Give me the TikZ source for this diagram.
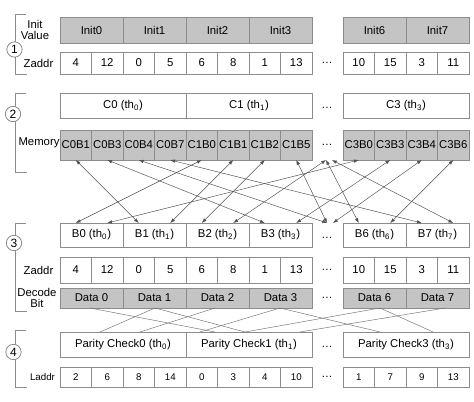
\documentclass[tikz,border=0pt]{standalone}
\usepackage{fontspec}
\setmainfont{Liberation Sans}
\usetikzlibrary{arrows.meta}
\definecolor{cellfill}{HTML}{C4C4C4}
\definecolor{cellline}{HTML}{8C8C8C}
\definecolor{arrowcol}{HTML}{505050}
\begin{document}
\begin{tikzpicture}[x=0.75pt,y=-0.75pt,
  base/.style={draw=cellline, line width=0.6pt, inner sep=0pt, outer sep=0pt,
    font=\fontsize{8.5}{9}\selectfont, anchor=center},
  wcell/.style={base, fill=white},
  gcell/.style={base, fill=cellfill},
  w1/.style={minimum width=23.625pt},
  w2/.style={minimum width=47.25pt},
  w4/.style={minimum width=94.5pt},
  lab/.style={inner sep=0pt, font=\fontsize{8.5}{8}\selectfont, align=center},
  small/.style={font=\fontsize{7.3}{8}\selectfont},
  dots/.style={inner sep=0pt, font=\fontsize{8.5}{9}\selectfont},
  num/.style={draw=cellline, fill=white, circle, line width=0.6pt, inner sep=0pt,
    minimum size=11.5pt, font=\fontsize{9}{9}\selectfont},
  brk/.style={draw=cellline, line width=0.6pt},
  link/.style={draw=arrowcol, line width=0.35pt, {Latex[length=3.6pt,width=2.6pt]}-{Latex[length=3.6pt,width=2.6pt]}},
  wire/.style={draw=arrowcol!80, line width=0.35pt}
]
\useasboundingbox (0,0) rectangle (474,402);

% ---------- brackets and circled numbers ----------
\draw[brk] (26,14) -- (15,14) -- (15,74) -- (27,74);
\node[num] (n1) at (14.5,49.5) {1};
\draw[brk] (26,93) -- (15,93) -- (15,172) -- (27,172);
\node[num] (n2) at (13,114) {2};
\draw[brk] (26,223) -- (15,223) -- (15,311) -- (27,311);
\node[num] (n3) at (14,243) {3};
\draw[brk] (26,330) -- (15,330) -- (15,387) -- (27,387);
\node[num] (n4) at (13.5,352) {4};

% ---------- left labels ----------
\node[lab] (lInit) at (35,30) {Init\\Value};
\node[lab] (lZ1) at (38.5,63) {Zaddr};
\node[lab] (lMem) at (39,143) {Memory};
\node[lab] (lZ2) at (38.5,270) {Zaddr};
\node[lab] (lDec) at (37,298) {Decode\\Bit};
\node[lab,small] (lL) at (42.5,377) {Laddr};

% ---------- row: Init ----------
\foreach \t [count=\i from 0] in {Init0,Init1,Init2,Init3}
  \node[gcell,w2,minimum height=19.5pt] (in\i) at ({91.5+63*\i},30) {\t};
\foreach \t [count=\i from 0] in {Init6,Init7}
  \node[gcell,w2,minimum height=19.5pt] (inR\i) at ({374.5+63*\i},30) {\t};

% ---------- row: Zaddr (1) ----------
\foreach \v [count=\i from 0] in {4,12,0,5,6,8,1,13}
  \node[wcell,w1,minimum height=16.5pt] (za\i) at ({75.75+31.5*\i},63) {\v};
\foreach \v [count=\i from 0] in {10,15,3,11}
  \node[wcell,w1,minimum height=16.5pt] (zaR\i) at ({358.75+31.5*\i},63) {\v};
\node[dots] (dza) at (327,63) {…};

% ---------- row: C ----------
\node[wcell,w4,minimum height=18.75pt] (c0) at (123,105.5) {C0 (th\textsubscript{0})};
\node[wcell,w4,minimum height=18.75pt] (c1) at (249,105.5) {C1 (th\textsubscript{1})};
\node[wcell,w4,minimum height=18.75pt] (c3) at (406,105.5) {C3 (th\textsubscript{3})};
\node[dots] (dc) at (327,108) {…};

% ---------- row: Memory ----------
\foreach \t [count=\i from 0] in {C0B1,C0B3,C0B4,C0B7,C1B0,C1B1,C1B2,C1B5}
  \node[gcell,w1,minimum height=22.5pt] (m\i) at ({75.75+31.5*\i},145) {\t};
\foreach \t [count=\i from 0] in {C3B0,C3B3,C3B4,C3B6}
  \node[gcell,w1,minimum height=22.5pt] (mR\i) at ({358.75+31.5*\i},145) {\t};
\node[dots] (dm) at (327,145) {…};
\coordinate (md1) at (326,160);
\coordinate (md2) at (332,160);

% ---------- row: B ----------
\foreach \t [count=\i from 0] in {0,1,2,3}
  \node[wcell,w2,minimum height=18pt] (b\i) at ({91.5+63*\i},235) {B\t\ (th\textsubscript{\t})};
\node[wcell,w2,minimum height=18pt] (bR0) at (374.5,235) {B6 (th\textsubscript{6})};
\node[wcell,w2,minimum height=18pt] (bR1) at (437.5,235) {B7 (th\textsubscript{7})};
\node[dots] (db) at (327,238) {…};
% arrival slots on top of the B row
\foreach \i in {0,...,7} \coordinate (bs\i) at ({75.75+31.5*\i},223);
\foreach \i in {0,...,3} \coordinate (bsR\i) at ({358.75+31.5*\i},223);
\coordinate (bsd1) at (327,223);
\coordinate (bsd2) at (333,223);

% ---------- links memory <-> B ----------
\draw[link] (m0.south) -- (bs2);
\draw[link] (m1.south) -- (bs6);
\draw[link] (m2.south) -- (bsd1);
\draw[link] (m3.south) -- (bsR2);
\draw[link] (m4.south) -- (bs0);
\draw[link] (m5.south) -- (bs3);
\draw[link] (m6.south) -- (bs4);
\draw[link] (m7.south) -- (bsd1);
\draw[link] (mR0.south) -- (bs1);
\draw[link] (mR1.south) -- (bs7);
\draw[link] (mR2.south) -- (bsd2);
\draw[link] (mR3.south) -- (bsR1);
\draw[link] (md1) -- (bs5);
\draw[link] (md1) -- (bsR0);
\draw[link] (md2) -- (bsR3);

% ---------- row: Zaddr (2) ----------
\foreach \v [count=\i from 0] in {4,12,0,5,6,8,1,13}
  \node[wcell,w1,minimum height=19.5pt] (zb\i) at ({75.75+31.5*\i},270) {\v};
\foreach \v [count=\i from 0] in {10,15,3,11}
  \node[wcell,w1,minimum height=19.5pt] (zbR\i) at ({358.75+31.5*\i},270) {\v};
\node[dots] (dzb) at (327,270) {…};

% ---------- row: Decode Bit ----------
\foreach \t [count=\i from 0] in {0,1,2,3}
  \node[gcell,w2,minimum height=15pt] (d\i) at ({91.5+63*\i},298) {Data \t};
\node[gcell,w2,minimum height=15pt] (dR0) at (374.5,298) {Data 6};
\node[gcell,w2,minimum height=15pt] (dR1) at (437.5,298) {Data 7};
\node[dots] (dd) at (327,298) {…};

% ---------- row: Parity check ----------
\node[wcell,w4,minimum height=18.75pt] (p0) at (123,344.5) {Parity Check0 (th\textsubscript{0})};
\node[wcell,w4,minimum height=18.75pt] (p1) at (249,344.5) {Parity Check1 (th\textsubscript{1})};
\node[wcell,w4,minimum height=18.75pt] (p3) at (406,344.5) {Parity Check3 (th\textsubscript{3})};
\node[dots] (dp) at (327,347) {…};

% ---------- wires Data -> Parity ----------
\coordinate (dw0) at (90,308);
\coordinate (dw1) at (155,308);
\coordinate (dw2) at (215,308);
\coordinate (dw3) at (280,308);
\coordinate (dw6) at (380,308);
\coordinate (dw7) at (445,308);
\coordinate (pw0a) at (100,332);
\coordinate (pw0b) at (140,332);
\coordinate (pw1a) at (215,332);
\coordinate (pw1b) at (245,332);
\coordinate (pw1c) at (200,332);
\coordinate (pw1d) at (300,332);
\coordinate (pw3a) at (380,332);
\coordinate (pw3b) at (433,332);
\draw[wire] (dw0) -- (pw1a);
\draw[wire] (dw1) -- (pw0a);
\draw[wire] (dw1) -- (pw1b);
\draw[wire] (dw2) -- (pw0b);
\draw[wire] (dw3) -- (pw1c);
\draw[wire] (dw3) -- (pw3a);
\draw[wire] (dw6) -- (pw1b);
\draw[wire] (dw7) -- (pw1d);
\draw[wire] (dw6) -- (pw3b);

% ---------- row: Laddr ----------
\foreach \v [count=\i from 0] in {2,6,8,14,0,3,4,10}
  \node[wcell,w1,small,minimum height=15pt] (la\i) at ({75.75+31.5*\i},377) {\v};
\foreach \v [count=\i from 0] in {1,7,9,13}
  \node[wcell,w1,small,minimum height=15pt] (laR\i) at ({358.75+31.5*\i},377) {\v};
\node[dots] (dla) at (327,377) {…};
\end{tikzpicture}
\end{document}
